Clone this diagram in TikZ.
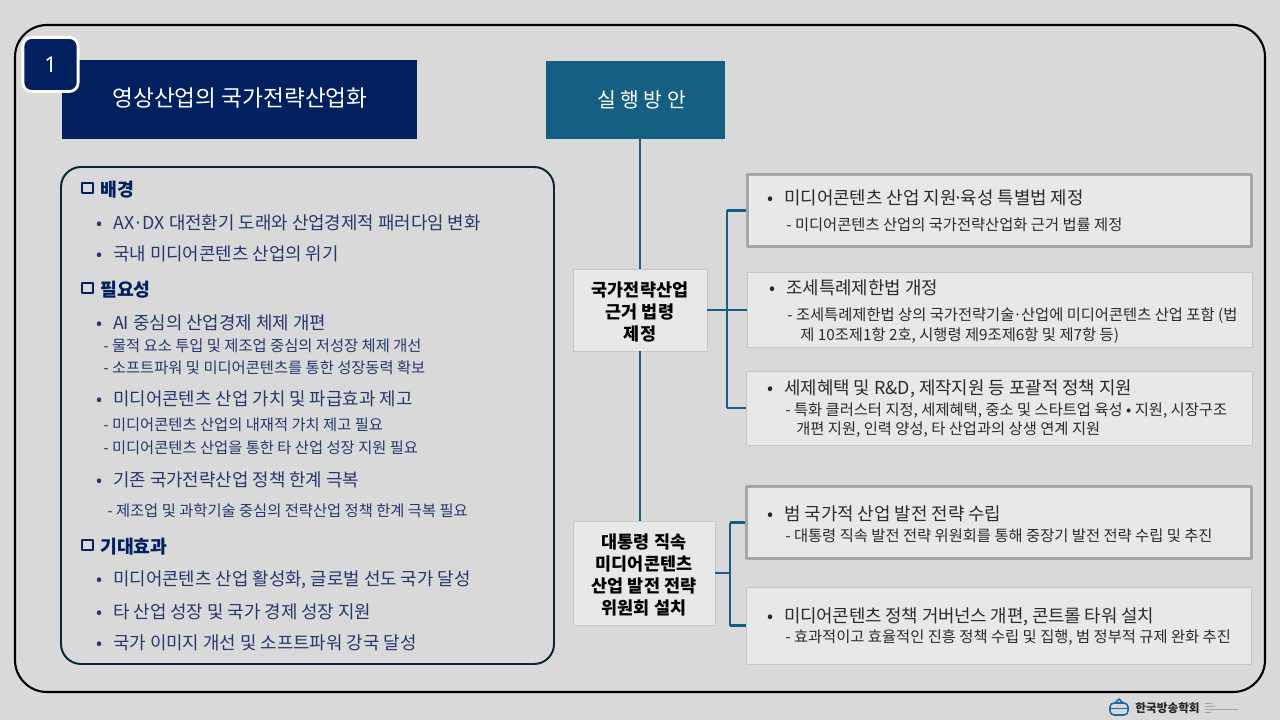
\documentclass[tikz,border=0pt]{standalone}
\usepackage{fontspec}
\setmainfont{Noto Sans CJK KR}
\newfontfamily\digitfont{Noto Sans}
\usetikzlibrary{positioning}
\definecolor{navy}{HTML}{002060}
\definecolor{teal}{HTML}{156082}
\definecolor{leftink}{HTML}{24396E}
\definecolor{rightink}{HTML}{2B2B2B}
\definecolor{logoblue}{HTML}{1F6AA5}
\newcommand{\bigtxt}{\fontsize{12.7}{15}\selectfont}
\newcommand{\smalltxt}{\fontsize{10.9}{14}\selectfont}
\newcommand{\heavytxt}{\fontsize{12.4}{15.6}\selectfont\bfseries}
\newcommand{\bul}[1]{\makebox[12pt][l]{•}#1}

\begin{document}
\begin{tikzpicture}[line cap=round,line join=round,x=0.025cm,y=-0.025cm,
  lefthead/.style={anchor=west,inner sep=0pt,yshift=-0.7pt,text=navy,font=\fontsize{13}{15.6}\selectfont\bfseries},
  headmark/.style={draw=navy,line width=1.4pt,inner sep=0pt,minimum size=0.27cm},
  leftbig/.style={anchor=west,inner sep=0pt,yshift=-0.7pt,text=leftink,font=\bigtxt},
  leftsmall/.style={anchor=west,inner sep=0pt,yshift=-0.7pt,text=leftink,font=\smalltxt},
  rightbig/.style={anchor=west,inner sep=0pt,yshift=-0.7pt,text=rightink,font=\bigtxt},
  rightsmall/.style={anchor=west,inner sep=0pt,yshift=-0.7pt,text=rightink,font=\smalltxt},
  catbox/.style={draw=black!22,fill=black!9,line width=0.5pt,inner sep=0pt,align=center,text=black,font=\heavytxt},
  thickbox/.style={draw=black!35,fill=black!9,line width=2.1pt,inner sep=0pt,minimum width=12.6cm,minimum height=1.8cm},
  thinbox/.style={draw=black!22,fill=black!9,line width=0.6pt,inner sep=0pt,minimum width=12.63cm},
  link/.style={draw=teal,line width=1.1pt,line cap=butt},
  branch/.style={draw=teal,line width=1.5pt,line cap=butt}]
\useasboundingbox (0,0) rectangle (1280,720);
\fill [black!15] (0,0) rectangle (1280,720);
\draw [line width=1.5pt,rounded corners=0.8cm] (15,25) rectangle (1265,692);

% title
\node (title) at (239.5,99.5) [fill=navy,minimum width=8.875cm,minimum height=1.975cm,inner sep=0pt] {};
\node (titletext) at (240,98.5) [text=white,inner sep=0pt,font=\fontsize{16.1}{19}\selectfont] {영상산업의 국가전략산업화};
\node (badge) at (50.5,64.5) [draw=white,fill=navy,line width=2pt,rounded corners=0.22cm,minimum width=1.38cm,minimum height=1.35cm,inner sep=0pt,text=white,font=\fontsize{15.5}{18}\selectfont\digitfont] {1};

% left panel
\draw [draw=teal!40!black,line width=1.4pt,rounded corners=0.5cm] (61,167) rectangle (554,664);
\node (mark1) at (87.5,188) [headmark] {};
\node (head1) at (100,189) [lefthead] {배경};
\node (item1) at (96,222) [leftbig] {\bul{AX\kern-0.5pt·\kern-0.5pt DX 대전환기 도래와 산업경제적 패러다임 변화}};
\node (item2) at (96,253) [leftbig] {\bul{국내 미디어콘텐츠 산업의 위기}};
\node (mark2) at (87.5,288) [headmark] {};
\node (head2) at (100,289) [lefthead] {필요성};
\node (item3) at (96,322) [leftbig] {\bul{AI 중심의 산업경제 체제 개편}};
\node (sub1) at (103,345) [leftsmall] {- 물적 요소 투입 및 제조업 중심의 저성장 체제 개선};
\node (sub2) at (103,367) [leftsmall] {- 소프트파워 및 미디어콘텐츠를 통한 성장동력 확보};
\node (item4) at (96,398) [leftbig] {\bul{미디어콘텐츠 산업 가치 및 파급효과 제고}};
\node (sub3) at (103,424) [leftsmall] {- 미디어콘텐츠 산업의 내재적 가치 제고 필요};
\node (sub4) at (103,447) [leftsmall] {- 미디어콘텐츠 산업을 통한 타 산업 성장 지원 필요};
\node (item5) at (96,479) [leftbig] {\bul{기존 국가전략산업 정책 한계 극복}};
\node (sub5) at (107,510) [leftsmall] {- 제조업 및 과학기술 중심의 전략산업 정책 한계 극복 필요};
\node (mark3) at (87.5,545) [headmark] {};
\node (head3) at (100,546) [lefthead] {기대효과};
\node (item6) at (96,579) [leftbig] {\bul{미디어콘텐츠 산업 활성화, 글로벌 선도 국가 달성}};
\node (item7) at (96,611) [leftbig] {\bul{타 산업 성장 및 국가 경제 성장 지원}};
\node (item8) at (96,642) [leftbig] {\bul{국가 이미지 개선 및 소프트파워 강국 달성}};

% right side
\node (plan) at (635.5,100) [fill=teal,minimum width=4.475cm,minimum height=1.95cm,inner sep=0pt] {};
\node (plantext) at (641.5,100) [text=white,inner sep=0pt,font=\fontsize{14.5}{17}\selectfont] {실 행 방 안};
\node (lawbox) at (640,310) [catbox,minimum width=3.35cm,minimum height=2.05cm] {\rule{0pt}{13pt}국가전략산업\\근거 법령\\제정};
\node (commbox) at (644,573) [catbox,minimum width=3.55cm,minimum height=2.6cm] {\rule{0pt}{13pt}대통령 직속\\미디어콘텐츠\\산업 발전 전략\\위원회 설치};
\node (law1) at (999.5,210.5) [thickbox] {};
\node (law2) at (1000,310) [thinbox,minimum height=1.875cm] {};
\node (law3) at (999.5,408) [thinbox,minimum height=1.85cm] {};
\node (comm1) at (999,522.5) [thickbox] {};
\node (comm2) at (999,625.5) [thinbox,minimum height=1.925cm] {};

\coordinate (lawbus) at (727,310);
\coordinate (commbus) at (730,573);
\draw [link] (plan.south -| lawbox.north) -- (lawbox.north);
\draw [link] (lawbox.south) -- (lawbox.south |- commbox.north);
\draw [branch] (lawbox.east) -- (law2.west);
\draw [branch] (lawbus |- law1.west) -- (law1.west);
\draw [branch] (lawbus |- law3.west) -- (law3.west);
\draw [branch] (lawbus |- law1.west) -- (lawbus |- law3.west);
\draw [branch] (commbox.east) -- (commbus);
\draw [branch] (commbus |- comm1.west) -- (comm1.west);
\draw [branch] (commbus |- comm2.west) -- (comm2.west);
\draw [branch] (commbus |- comm1.west) -- (commbus |- comm2.west);

\node (t1) at (767,197) [rightbig] {\bul{미디어콘텐츠 산업 지원\kern-2pt·\kern-2pt 육성 특별법 제정}};
\node (s1) at (786,224) [rightsmall] {- 미디어콘텐츠 산업의 국가전략산업화 근거 법률 제정};
\node (t2) at (769,287) [rightbig] {\bul{조세특례제한법 개정}};
\node (s2) at (787,315) [rightsmall] {- 조세특례제한법 상의 국가전략기술\kern-0.7pt·\kern-0.7pt 산업에 미디어콘텐츠 산업 포함 (법};
\node (s2b) at (800,335) [rightsmall] {제 10조제1항 2호, 시행령 제9조제6항 및 제7항 등)};
\node (t3) at (767,388) [rightbig] {\bul{세제혜택 및 R\&D, 제작지원 등 포괄적 정책 지원}};
\node (s3) at (785,410) [rightsmall] {- 특화 클러스터 지정, 세제혜택, 중소 및 스타트업 육성 • 지원, 시장구조};
\node (s3b) at (796,429) [rightsmall] {개편 지원, 인력 양성, 타 산업과의 상생 연계 지원};
\node (t4) at (767,513) [rightbig] {\bul{범 국가적 산업 발전 전략 수립}};
\node (s4) at (785,535) [rightsmall] {- 대통령 직속 발전 전략 위원회를 통해 중장기 발전 전략 수립 및 추진};
\node (t5) at (767,616) [rightbig] {\bul{\addfontfeature{LetterSpace=-1.1}미디어콘텐츠 정책 거버넌스 개편, 콘트롤 타워 설치}};
\node (s5) at (785,637) [rightsmall] {- 효과적이고 효율적인 진흥 정책 수립 및 집행, 범 정부적 규제 완화 추진};

% logo
\draw [draw=logoblue,line width=1.1pt,rounded corners=0.1cm] (1110,703) rectangle (1128,715);
\draw [draw=logoblue,line width=1.1pt] (1110,708.5) -- (1128,708.5);
\draw [draw=logoblue,line width=1.1pt] (1115,703) -- (1119,699) -- (1123,703);
\node (logotext) at (1135,708) [anchor=west,inner sep=0pt,text=black!85,font=\fontsize{8.3}{10}\selectfont\bfseries] {한국방송학회};
\draw [black!35,line width=0.3pt] (1205,703.5) -- (1212,703.5);
\draw [black!35,line width=0.3pt] (1205,706.5) -- (1215,706.5);
\draw [black!35,line width=0.3pt] (1205,709.5) -- (1238,709.5);
\draw [black!35,line width=0.3pt] (1205,712.5) -- (1211,712.5);
\end{tikzpicture}
\end{document}
